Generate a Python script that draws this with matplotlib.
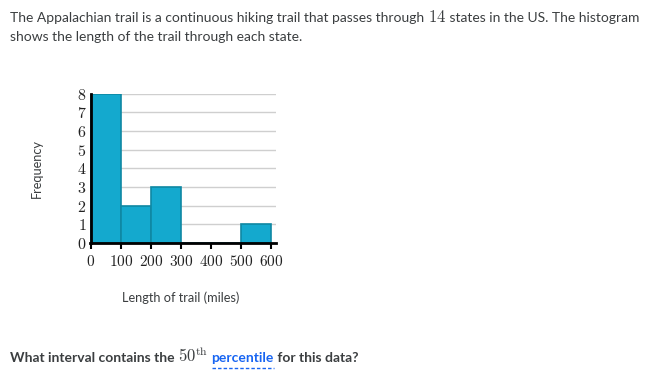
import numpy as np
import matplotlib
matplotlib.use("Agg")
import matplotlib.pyplot as plt

plt.rcParams["mathtext.fontset"] = "cm"

# histogram data
bin_edges = [0, 100, 200, 300, 400, 500, 600]
counts = [8, 2, 3, 0, 0, 1]
x_ticks = [0, 100, 200, 300, 400, 500, 600]
y_ticks = [0, 1, 2, 3, 4, 5, 6, 7, 8]

W, H = 649, 380
fig = plt.figure(figsize=(W / 100, H / 100), dpi=100)

text_col = "#3b3e40"
font = "Lato"


def text_run(x_px, y_px, pieces):
    """Write pieces (text, size, weight, color) one after another on one line."""
    x = x_px
    out = []
    for s, size, weight, color in pieces:
        t = fig.text(x / W, 1 - y_px / H, s, fontsize=size, family=font, weight=weight,
                     color=color, va="baseline", ha="left")
        fig.canvas.draw()
        x = t.get_window_extent().x1
        out.append(t)
    return out


text_run(10, 22, [
    ("The Appalachian trail is a continuous hiking trail that passes through ", 10.0, "normal", text_col),
    ("$14$", 12, "normal", text_col),
    (" states in the US. The histogram", 10.0, "normal", text_col),
])
fig.text(10 / W, 1 - 41 / H, "shows the length of the trail through each state.",
         fontsize=10.0, family=font, color=text_col, va="baseline", ha="left")

ax = fig.add_axes([90 / W, 137 / H, 186 / W, (243 - 93.7) / H])
widths = np.diff(bin_edges)
ax.bar(bin_edges[:-1], counts, width=widths, align="edge",
       color="#14a9ce", edgecolor="#0f88a3", linewidth=1.2, zorder=3)

ax.set_xlim(-2, 615)
ax.set_ylim(0, 8)
ax.set_yticks(y_ticks)
ax.set_yticklabels([f"${v}$" for v in y_ticks])
ax.set_xticks(x_ticks)
ax.set_xticklabels([f"${v}$" for v in x_ticks])
ax.grid(axis="y", color="#cfcfcf", linewidth=1, zorder=0)
ax.tick_params(axis="y", length=0, pad=3, labelsize=11.5, colors="#222")
ax.tick_params(axis="x", length=4, width=1.5, pad=4, labelsize=11, colors="#222",
               direction="out")
ax.tick_params(axis="x", color="black")
for s in ["top", "right"]:
    ax.spines[s].set_visible(False)
for s in ["left", "bottom"]:
    ax.spines[s].set_linewidth(2)
    ax.spines[s].set_color("black")
    ax.spines[s].set_zorder(4)
ax.spines["left"].set_position(("data", 0))

fig.text(37 / W, 1 - 168 / H, "Frequency", rotation=90, fontsize=9.2, family=font,
         color=text_col, va="center", ha="center")
fig.text(181 / W, 1 - 298 / H, "Length of trail (miles)", fontsize=9.2, family=font,
         color=text_col, va="center", ha="center")

# question line
qs = 10.0
q = text_run(10, 362, [
    ("What interval contains the ", qs, "bold", text_col),
    ("$50^{\\mathrm{th}}$", 12, "normal", text_col),
    (" ", qs, "bold", text_col),
    ("percentile", qs, "bold", "#1865f2"),
    (" for this data?", qs, "bold", text_col),
])
bb = q[3].get_window_extent()
fig.add_artist(plt.Line2D([bb.x0 / W, bb.x1 / W], [1 - 368 / H, 1 - 368 / H],
                          color="#1865f2", linewidth=1, linestyle=(0, (2.5, 1.5))))

fig.savefig("out.png", dpi=100)
